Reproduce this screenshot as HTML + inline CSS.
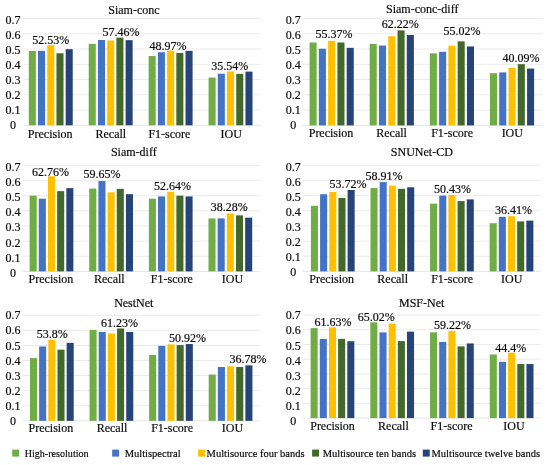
<!DOCTYPE html>
<html><head><meta charset="utf-8"><title>chart</title>
<style>
html,body{margin:0;padding:0;background:#fff;}
svg{display:block;}
text{font-family:"Liberation Serif", "DejaVu Serif", serif;font-size:12px;fill:#0a0a0a;stroke:#0a0a0a;stroke-width:0.18px;}
.g{stroke:#ebebeb;stroke-width:1;}
.ax{stroke:#e6e6e6;stroke-width:1;}
.lg{font-size:10.5px;}
</style></head><body>
<svg width="550" height="465" viewBox="0 0 550 465">
<rect width="550" height="465" fill="#fff"/>
<g>
<line class="ax" x1="23.50" x2="260.70" y1="125.30" y2="125.30"/>
<line class="g" x1="23.50" x2="260.70" y1="110.04" y2="110.04"/>
<line class="g" x1="23.50" x2="260.70" y1="94.79" y2="94.79"/>
<line class="g" x1="23.50" x2="260.70" y1="79.53" y2="79.53"/>
<line class="g" x1="23.50" x2="260.70" y1="64.27" y2="64.27"/>
<line class="g" x1="23.50" x2="260.70" y1="49.01" y2="49.01"/>
<line class="g" x1="23.50" x2="260.70" y1="33.76" y2="33.76"/>
<line class="g" x1="23.50" x2="260.70" y1="18.50" y2="18.50"/>
<text x="13.10" y="129.17" text-anchor="middle">0</text>
<text x="13.10" y="114.14" text-anchor="middle">0.1</text>
<text x="13.10" y="99.11" text-anchor="middle">0.2</text>
<text x="13.10" y="84.08" text-anchor="middle">0.3</text>
<text x="13.10" y="69.06" text-anchor="middle">0.4</text>
<text x="13.10" y="54.03" text-anchor="middle">0.5</text>
<text x="13.10" y="39.00" text-anchor="middle">0.6</text>
<text x="13.10" y="23.97" text-anchor="middle">0.7</text>
<text x="133.90" y="13.60" text-anchor="middle">Siam-conc</text>
<rect x="28.80" y="51.00" width="7.05" height="74.30" fill="#70ad47"/>
<rect x="38.02" y="50.85" width="7.05" height="74.45" fill="#4472c4"/>
<rect x="47.24" y="45.15" width="7.05" height="80.15" fill="#ffc000"/>
<rect x="56.46" y="53.29" width="7.05" height="72.01" fill="#43682b"/>
<rect x="65.68" y="49.17" width="7.05" height="76.13" fill="#264478"/>
<text x="50.15" y="137.80" text-anchor="middle">Precision</text>
<rect x="88.72" y="43.83" width="7.05" height="81.47" fill="#70ad47"/>
<rect x="97.94" y="40.01" width="7.05" height="85.29" fill="#4472c4"/>
<rect x="107.16" y="40.47" width="7.05" height="84.83" fill="#ffc000"/>
<rect x="116.38" y="37.63" width="7.05" height="87.67" fill="#43682b"/>
<rect x="125.60" y="40.17" width="7.05" height="85.13" fill="#264478"/>
<text x="110.80" y="137.80" text-anchor="middle">Recall</text>
<rect x="148.65" y="56.03" width="7.05" height="69.27" fill="#70ad47"/>
<rect x="157.87" y="52.22" width="7.05" height="73.08" fill="#4472c4"/>
<rect x="167.09" y="50.59" width="7.05" height="74.71" fill="#ffc000"/>
<rect x="176.31" y="52.98" width="7.05" height="72.32" fill="#43682b"/>
<rect x="185.53" y="50.85" width="7.05" height="74.45" fill="#264478"/>
<text x="169.45" y="137.80" text-anchor="middle">F1-score</text>
<rect x="208.57" y="77.55" width="7.05" height="47.75" fill="#70ad47"/>
<rect x="217.79" y="73.73" width="7.05" height="51.57" fill="#4472c4"/>
<rect x="227.01" y="71.38" width="7.05" height="53.92" fill="#ffc000"/>
<rect x="236.23" y="73.88" width="7.05" height="51.42" fill="#43682b"/>
<rect x="245.45" y="71.59" width="7.05" height="53.71" fill="#264478"/>
<text x="231.15" y="137.80" text-anchor="middle">IOU</text>
<text x="50.86" y="43.65" text-anchor="middle">52.53%</text>
<text x="121.01" y="35.73" text-anchor="middle">57.46%</text>
<text x="167.91" y="49.99" text-anchor="middle">48.97%</text>
<text x="229.74" y="70.18" text-anchor="middle">35.54%</text>
</g>
<g>
<line class="ax" x1="301.80" x2="542.70" y1="125.40" y2="125.40"/>
<line class="g" x1="301.80" x2="542.70" y1="110.13" y2="110.13"/>
<line class="g" x1="301.80" x2="542.70" y1="94.86" y2="94.86"/>
<line class="g" x1="301.80" x2="542.70" y1="79.59" y2="79.59"/>
<line class="g" x1="301.80" x2="542.70" y1="64.31" y2="64.31"/>
<line class="g" x1="301.80" x2="542.70" y1="49.04" y2="49.04"/>
<line class="g" x1="301.80" x2="542.70" y1="33.77" y2="33.77"/>
<line class="g" x1="301.80" x2="542.70" y1="18.50" y2="18.50"/>
<text x="293.20" y="129.47" text-anchor="middle">0</text>
<text x="293.20" y="114.41" text-anchor="middle">0.1</text>
<text x="293.20" y="99.36" text-anchor="middle">0.2</text>
<text x="293.20" y="84.30" text-anchor="middle">0.3</text>
<text x="293.20" y="69.24" text-anchor="middle">0.4</text>
<text x="293.20" y="54.18" text-anchor="middle">0.5</text>
<text x="293.20" y="39.13" text-anchor="middle">0.6</text>
<text x="293.20" y="24.07" text-anchor="middle">0.7</text>
<text x="422.20" y="13.40" text-anchor="middle">Siam-conc-diff</text>
<rect x="309.58" y="42.48" width="7.05" height="82.92" fill="#70ad47"/>
<rect x="318.86" y="48.74" width="7.05" height="76.66" fill="#4472c4"/>
<rect x="328.14" y="40.84" width="7.05" height="84.56" fill="#ffc000"/>
<rect x="337.42" y="42.48" width="7.05" height="82.92" fill="#43682b"/>
<rect x="346.70" y="47.82" width="7.05" height="77.58" fill="#264478"/>
<text x="331.05" y="137.30" text-anchor="middle">Precision</text>
<rect x="369.70" y="43.85" width="7.05" height="81.55" fill="#70ad47"/>
<rect x="378.98" y="45.53" width="7.05" height="79.87" fill="#4472c4"/>
<rect x="388.26" y="36.21" width="7.05" height="89.19" fill="#ffc000"/>
<rect x="397.54" y="30.38" width="7.05" height="95.02" fill="#43682b"/>
<rect x="406.82" y="34.99" width="7.05" height="90.41" fill="#264478"/>
<text x="391.60" y="137.30" text-anchor="middle">Recall</text>
<rect x="429.83" y="53.32" width="7.05" height="72.08" fill="#70ad47"/>
<rect x="439.11" y="51.79" width="7.05" height="73.61" fill="#4472c4"/>
<rect x="448.39" y="45.68" width="7.05" height="79.72" fill="#ffc000"/>
<rect x="457.67" y="41.38" width="7.05" height="84.02" fill="#43682b"/>
<rect x="466.95" y="46.45" width="7.05" height="78.95" fill="#264478"/>
<text x="452.15" y="137.30" text-anchor="middle">F1-score</text>
<rect x="489.95" y="73.17" width="7.05" height="52.23" fill="#70ad47"/>
<rect x="499.23" y="72.41" width="7.05" height="52.99" fill="#4472c4"/>
<rect x="508.51" y="67.83" width="7.05" height="57.57" fill="#ffc000"/>
<rect x="517.79" y="64.18" width="7.05" height="61.22" fill="#43682b"/>
<rect x="527.07" y="68.59" width="7.05" height="56.81" fill="#264478"/>
<text x="512.30" y="137.30" text-anchor="middle">IOU</text>
<text x="333.96" y="38.24" text-anchor="middle">55.37%</text>
<text x="400.17" y="28.38" text-anchor="middle">62.22%</text>
<text x="461.99" y="35.08" text-anchor="middle">55.02%</text>
<text x="521.02" y="61.58" text-anchor="middle">40.09%</text>
</g>
<g>
<line class="ax" x1="22.60" x2="260.10" y1="271.40" y2="271.40"/>
<line class="g" x1="22.60" x2="260.10" y1="256.26" y2="256.26"/>
<line class="g" x1="22.60" x2="260.10" y1="241.11" y2="241.11"/>
<line class="g" x1="22.60" x2="260.10" y1="225.97" y2="225.97"/>
<line class="g" x1="22.60" x2="260.10" y1="210.83" y2="210.83"/>
<line class="g" x1="22.60" x2="260.10" y1="195.69" y2="195.69"/>
<line class="g" x1="22.60" x2="260.10" y1="180.54" y2="180.54"/>
<line class="g" x1="22.60" x2="260.10" y1="165.40" y2="165.40"/>
<text x="13.10" y="276.77" text-anchor="middle">0</text>
<text x="13.10" y="261.63" text-anchor="middle">0.1</text>
<text x="13.10" y="246.50" text-anchor="middle">0.2</text>
<text x="13.10" y="231.36" text-anchor="middle">0.3</text>
<text x="13.10" y="216.23" text-anchor="middle">0.4</text>
<text x="13.10" y="201.09" text-anchor="middle">0.5</text>
<text x="13.10" y="185.96" text-anchor="middle">0.6</text>
<text x="13.10" y="170.82" text-anchor="middle">0.7</text>
<text x="133.80" y="155.60" text-anchor="middle">Siam-diff</text>
<rect x="29.64" y="195.69" width="7.05" height="75.71" fill="#70ad47"/>
<rect x="38.81" y="198.71" width="7.05" height="72.69" fill="#4472c4"/>
<rect x="47.98" y="176.36" width="7.05" height="95.04" fill="#ffc000"/>
<rect x="57.15" y="191.14" width="7.05" height="80.26" fill="#43682b"/>
<rect x="66.32" y="188.11" width="7.05" height="83.29" fill="#264478"/>
<text x="50.90" y="282.80" text-anchor="middle">Precision</text>
<rect x="89.25" y="188.57" width="7.05" height="82.83" fill="#70ad47"/>
<rect x="98.42" y="181.07" width="7.05" height="90.33" fill="#4472c4"/>
<rect x="107.59" y="192.35" width="7.05" height="79.05" fill="#ffc000"/>
<rect x="116.76" y="188.87" width="7.05" height="82.53" fill="#43682b"/>
<rect x="125.93" y="194.17" width="7.05" height="77.23" fill="#264478"/>
<text x="109.30" y="282.80" text-anchor="middle">Recall</text>
<rect x="148.87" y="198.71" width="7.05" height="72.69" fill="#70ad47"/>
<rect x="158.04" y="196.44" width="7.05" height="74.96" fill="#4472c4"/>
<rect x="167.21" y="191.69" width="7.05" height="79.71" fill="#ffc000"/>
<rect x="176.38" y="195.69" width="7.05" height="75.71" fill="#43682b"/>
<rect x="185.55" y="196.44" width="7.05" height="74.96" fill="#264478"/>
<text x="171.80" y="282.80" text-anchor="middle">F1-score</text>
<rect x="208.48" y="218.40" width="7.05" height="53.00" fill="#70ad47"/>
<rect x="217.65" y="218.40" width="7.05" height="53.00" fill="#4472c4"/>
<rect x="226.82" y="213.43" width="7.05" height="57.97" fill="#ffc000"/>
<rect x="235.99" y="215.37" width="7.05" height="56.03" fill="#43682b"/>
<rect x="245.16" y="217.64" width="7.05" height="53.76" fill="#264478"/>
<text x="232.50" y="282.80" text-anchor="middle">IOU</text>
<text x="50.61" y="175.66" text-anchor="middle">62.76%</text>
<text x="102.05" y="178.27" text-anchor="middle">59.65%</text>
<text x="172.53" y="190.39" text-anchor="middle">52.64%</text>
<text x="229.24" y="210.63" text-anchor="middle">38.28%</text>
</g>
<g>
<line class="ax" x1="302.60" x2="540.70" y1="271.40" y2="271.40"/>
<line class="g" x1="302.60" x2="540.70" y1="256.24" y2="256.24"/>
<line class="g" x1="302.60" x2="540.70" y1="241.09" y2="241.09"/>
<line class="g" x1="302.60" x2="540.70" y1="225.93" y2="225.93"/>
<line class="g" x1="302.60" x2="540.70" y1="210.77" y2="210.77"/>
<line class="g" x1="302.60" x2="540.70" y1="195.61" y2="195.61"/>
<line class="g" x1="302.60" x2="540.70" y1="180.46" y2="180.46"/>
<line class="g" x1="302.60" x2="540.70" y1="165.30" y2="165.30"/>
<text x="293.20" y="276.47" text-anchor="middle">0</text>
<text x="293.20" y="261.38" text-anchor="middle">0.1</text>
<text x="293.20" y="246.28" text-anchor="middle">0.2</text>
<text x="293.20" y="231.19" text-anchor="middle">0.3</text>
<text x="293.20" y="216.10" text-anchor="middle">0.4</text>
<text x="293.20" y="201.01" text-anchor="middle">0.5</text>
<text x="293.20" y="185.91" text-anchor="middle">0.6</text>
<text x="293.20" y="170.82" text-anchor="middle">0.7</text>
<text x="421.80" y="155.60" text-anchor="middle">SNUNet-CD</text>
<rect x="310.92" y="205.77" width="7.05" height="65.63" fill="#70ad47"/>
<rect x="320.09" y="194.25" width="7.05" height="77.15" fill="#4472c4"/>
<rect x="329.26" y="191.98" width="7.05" height="79.42" fill="#ffc000"/>
<rect x="338.43" y="197.89" width="7.05" height="73.51" fill="#43682b"/>
<rect x="347.60" y="189.98" width="7.05" height="81.42" fill="#264478"/>
<text x="331.65" y="282.80" text-anchor="middle">Precision</text>
<rect x="370.50" y="188.04" width="7.05" height="83.36" fill="#70ad47"/>
<rect x="379.67" y="182.11" width="7.05" height="89.29" fill="#4472c4"/>
<rect x="388.84" y="185.61" width="7.05" height="85.79" fill="#ffc000"/>
<rect x="398.01" y="188.79" width="7.05" height="82.61" fill="#43682b"/>
<rect x="407.18" y="187.28" width="7.05" height="84.12" fill="#264478"/>
<text x="392.70" y="282.80" text-anchor="middle">Recall</text>
<rect x="430.07" y="203.65" width="7.05" height="67.75" fill="#70ad47"/>
<rect x="439.24" y="195.61" width="7.05" height="75.79" fill="#4472c4"/>
<rect x="448.41" y="194.96" width="7.05" height="76.44" fill="#ffc000"/>
<rect x="457.58" y="201.07" width="7.05" height="70.33" fill="#43682b"/>
<rect x="466.75" y="199.40" width="7.05" height="72.00" fill="#264478"/>
<text x="452.15" y="282.80" text-anchor="middle">F1-score</text>
<rect x="489.65" y="223.20" width="7.05" height="48.20" fill="#70ad47"/>
<rect x="498.82" y="216.83" width="7.05" height="54.57" fill="#4472c4"/>
<rect x="507.99" y="216.21" width="7.05" height="55.19" fill="#ffc000"/>
<rect x="517.16" y="221.38" width="7.05" height="50.02" fill="#43682b"/>
<rect x="526.33" y="220.62" width="7.05" height="50.78" fill="#264478"/>
<text x="511.65" y="282.80" text-anchor="middle">IOU</text>
<text x="347.93" y="188.48" text-anchor="middle">53.72%</text>
<text x="383.99" y="179.81" text-anchor="middle">58.91%</text>
<text x="452.44" y="193.46" text-anchor="middle">50.43%</text>
<text x="513.61" y="214.31" text-anchor="middle">36.41%</text>
</g>
<g>
<line class="ax" x1="22.60" x2="260.10" y1="420.85" y2="420.85"/>
<line class="g" x1="22.60" x2="260.10" y1="405.76" y2="405.76"/>
<line class="g" x1="22.60" x2="260.10" y1="390.68" y2="390.68"/>
<line class="g" x1="22.60" x2="260.10" y1="375.59" y2="375.59"/>
<line class="g" x1="22.60" x2="260.10" y1="360.51" y2="360.51"/>
<line class="g" x1="22.60" x2="260.10" y1="345.42" y2="345.42"/>
<line class="g" x1="22.60" x2="260.10" y1="330.34" y2="330.34"/>
<line class="g" x1="22.60" x2="260.10" y1="315.25" y2="315.25"/>
<text x="13.10" y="424.97" text-anchor="middle">0</text>
<text x="13.10" y="409.88" text-anchor="middle">0.1</text>
<text x="13.10" y="394.80" text-anchor="middle">0.2</text>
<text x="13.10" y="379.71" text-anchor="middle">0.3</text>
<text x="13.10" y="364.63" text-anchor="middle">0.4</text>
<text x="13.10" y="349.54" text-anchor="middle">0.5</text>
<text x="13.10" y="334.46" text-anchor="middle">0.6</text>
<text x="13.10" y="319.37" text-anchor="middle">0.7</text>
<text x="133.80" y="307.40" text-anchor="middle">NestNet</text>
<rect x="29.97" y="358.09" width="7.05" height="62.76" fill="#70ad47"/>
<rect x="39.14" y="346.48" width="7.05" height="74.37" fill="#4472c4"/>
<rect x="48.31" y="339.69" width="7.05" height="81.16" fill="#ffc000"/>
<rect x="57.48" y="349.65" width="7.05" height="71.20" fill="#43682b"/>
<rect x="66.65" y="342.86" width="7.05" height="77.99" fill="#264478"/>
<text x="50.85" y="431.80" text-anchor="middle">Precision</text>
<rect x="89.55" y="329.88" width="7.05" height="90.97" fill="#70ad47"/>
<rect x="98.72" y="332.00" width="7.05" height="88.85" fill="#4472c4"/>
<rect x="107.89" y="333.50" width="7.05" height="87.35" fill="#ffc000"/>
<rect x="117.06" y="328.48" width="7.05" height="92.37" fill="#43682b"/>
<rect x="126.23" y="332.00" width="7.05" height="88.85" fill="#264478"/>
<text x="112.00" y="431.80" text-anchor="middle">Recall</text>
<rect x="149.12" y="354.93" width="7.05" height="65.92" fill="#70ad47"/>
<rect x="158.29" y="345.87" width="7.05" height="74.98" fill="#4472c4"/>
<rect x="167.46" y="344.37" width="7.05" height="76.48" fill="#ffc000"/>
<rect x="176.63" y="345.12" width="7.05" height="75.73" fill="#43682b"/>
<rect x="185.80" y="344.03" width="7.05" height="76.82" fill="#264478"/>
<text x="172.15" y="431.80" text-anchor="middle">F1-score</text>
<rect x="208.70" y="374.54" width="7.05" height="46.31" fill="#70ad47"/>
<rect x="217.87" y="366.99" width="7.05" height="53.86" fill="#4472c4"/>
<rect x="227.04" y="366.24" width="7.05" height="54.61" fill="#ffc000"/>
<rect x="236.21" y="366.99" width="7.05" height="53.86" fill="#43682b"/>
<rect x="245.38" y="365.36" width="7.05" height="55.49" fill="#264478"/>
<text x="232.50" y="431.80" text-anchor="middle">IOU</text>
<text x="52.34" y="338.09" text-anchor="middle">53.8%</text>
<text x="119.48" y="326.68" text-anchor="middle">61.23%</text>
<text x="187.43" y="342.13" text-anchor="middle">50.92%</text>
<text x="247.90" y="362.76" text-anchor="middle">36.78%</text>
</g>
<g>
<line class="ax" x1="302.60" x2="540.70" y1="418.10" y2="418.10"/>
<line class="g" x1="302.60" x2="540.70" y1="403.37" y2="403.37"/>
<line class="g" x1="302.60" x2="540.70" y1="388.64" y2="388.64"/>
<line class="g" x1="302.60" x2="540.70" y1="373.91" y2="373.91"/>
<line class="g" x1="302.60" x2="540.70" y1="359.19" y2="359.19"/>
<line class="g" x1="302.60" x2="540.70" y1="344.46" y2="344.46"/>
<line class="g" x1="302.60" x2="540.70" y1="329.73" y2="329.73"/>
<line class="g" x1="302.60" x2="540.70" y1="315.00" y2="315.00"/>
<text x="293.20" y="424.97" text-anchor="middle">0</text>
<text x="293.20" y="409.88" text-anchor="middle">0.1</text>
<text x="293.20" y="394.80" text-anchor="middle">0.2</text>
<text x="293.20" y="379.71" text-anchor="middle">0.3</text>
<text x="293.20" y="364.63" text-anchor="middle">0.4</text>
<text x="293.20" y="349.54" text-anchor="middle">0.5</text>
<text x="293.20" y="334.46" text-anchor="middle">0.6</text>
<text x="293.20" y="319.37" text-anchor="middle">0.7</text>
<text x="421.70" y="307.00" text-anchor="middle">MSF-Net</text>
<rect x="310.60" y="328.11" width="7.05" height="89.99" fill="#70ad47"/>
<rect x="319.77" y="339.01" width="7.05" height="79.09" fill="#4472c4"/>
<rect x="328.94" y="327.33" width="7.05" height="90.77" fill="#ffc000"/>
<rect x="338.11" y="338.86" width="7.05" height="79.24" fill="#43682b"/>
<rect x="347.28" y="341.22" width="7.05" height="76.88" fill="#264478"/>
<text x="332.55" y="429.80" text-anchor="middle">Precision</text>
<rect x="370.32" y="322.33" width="7.05" height="95.77" fill="#70ad47"/>
<rect x="379.49" y="332.38" width="7.05" height="85.72" fill="#4472c4"/>
<rect x="388.66" y="323.54" width="7.05" height="94.56" fill="#ffc000"/>
<rect x="397.83" y="341.07" width="7.05" height="77.03" fill="#43682b"/>
<rect x="407.00" y="331.64" width="7.05" height="86.46" fill="#264478"/>
<text x="393.40" y="429.80" text-anchor="middle">Recall</text>
<rect x="430.05" y="332.38" width="7.05" height="85.72" fill="#70ad47"/>
<rect x="439.22" y="341.95" width="7.05" height="76.15" fill="#4472c4"/>
<rect x="448.39" y="330.88" width="7.05" height="87.22" fill="#ffc000"/>
<rect x="457.56" y="346.37" width="7.05" height="71.73" fill="#43682b"/>
<rect x="466.73" y="343.43" width="7.05" height="74.67" fill="#264478"/>
<text x="451.55" y="429.80" text-anchor="middle">F1-score</text>
<rect x="489.77" y="354.47" width="7.05" height="63.63" fill="#70ad47"/>
<rect x="498.94" y="361.84" width="7.05" height="56.26" fill="#4472c4"/>
<rect x="508.11" y="352.71" width="7.05" height="65.39" fill="#ffc000"/>
<rect x="517.28" y="364.05" width="7.05" height="54.05" fill="#43682b"/>
<rect x="526.45" y="364.05" width="7.05" height="54.05" fill="#264478"/>
<text x="513.90" y="429.80" text-anchor="middle">IOU</text>
<text x="333.06" y="325.73" text-anchor="middle">61.63%</text>
<text x="376.25" y="320.53" text-anchor="middle">65.02%</text>
<text x="452.41" y="329.28" text-anchor="middle">59.22%</text>
<text x="510.64" y="352.11" text-anchor="middle">44.4%</text>
</g>
<rect x="12.20" y="449.6" width="6.9" height="7" fill="#70ad47"/>
<text class="lg" x="24.70" y="457.1" textLength="63.9" lengthAdjust="spacingAndGlyphs">High-resolution</text>
<rect x="112.20" y="449.6" width="6.9" height="7" fill="#4472c4"/>
<text class="lg" x="124.70" y="457.1">Multispectral</text>
<rect x="198.10" y="449.6" width="6.9" height="7" fill="#ffc000"/>
<text class="lg" x="206.60" y="457.1">Multisource four bands</text>
<rect x="312.10" y="449.6" width="6.9" height="7" fill="#43682b"/>
<text class="lg" x="322.70" y="457.1">Multisource ten bands</text>
<rect x="422.80" y="449.6" width="6.9" height="7" fill="#264478"/>
<text class="lg" x="431.50" y="457.1">Multisource twelve bands</text>
</svg></body></html>
